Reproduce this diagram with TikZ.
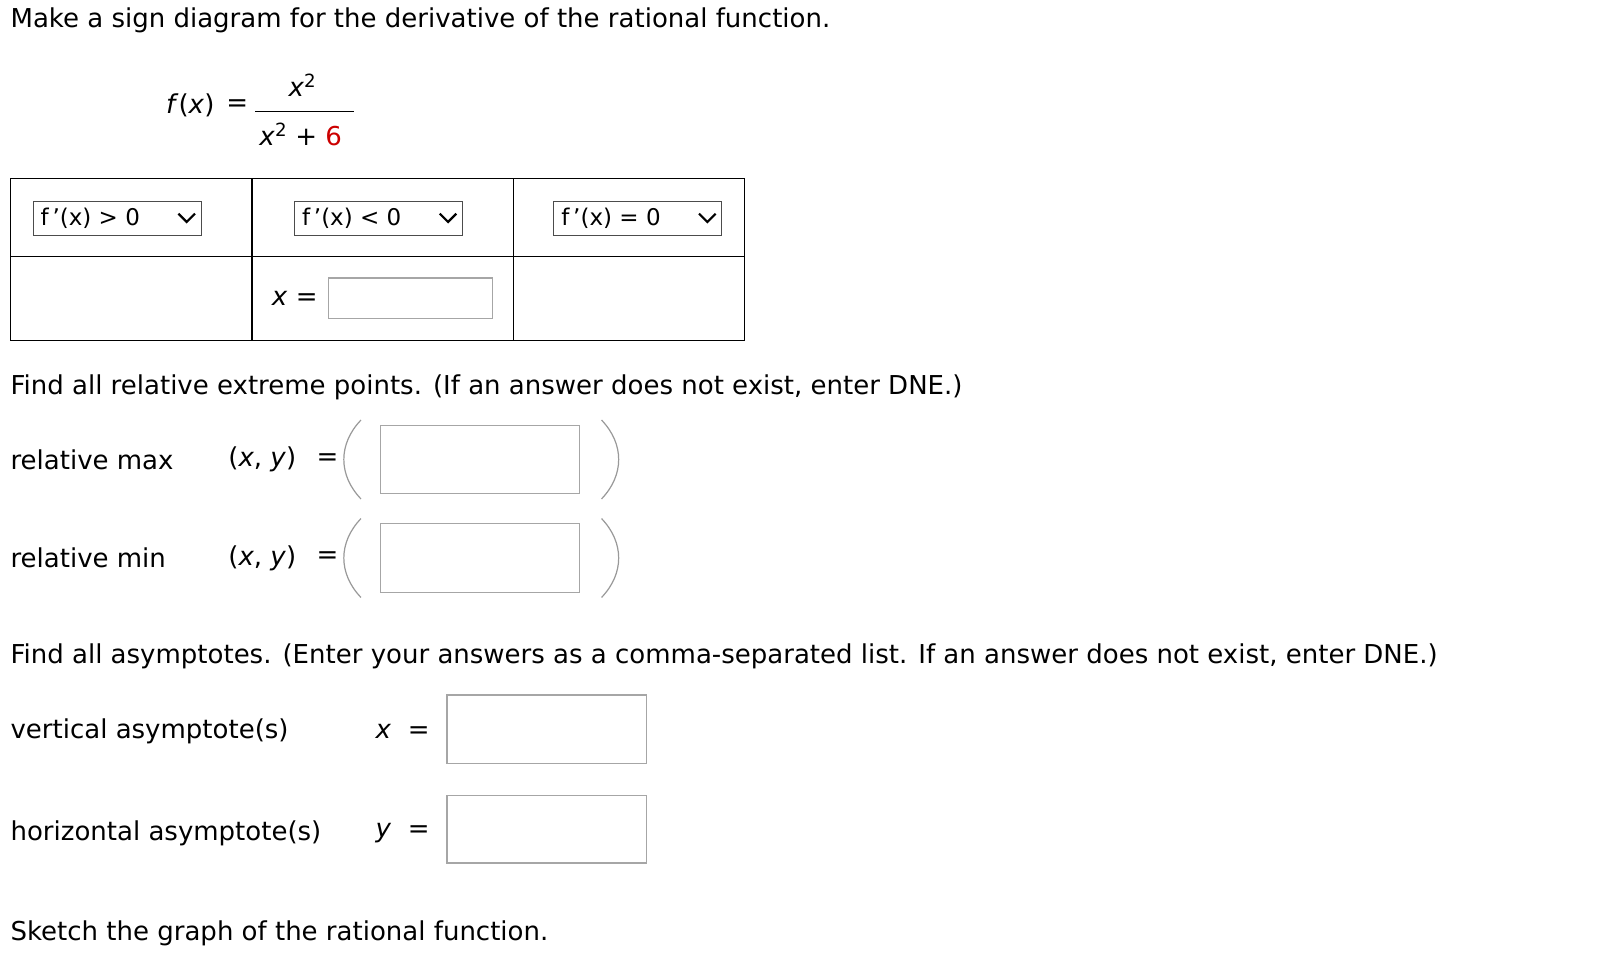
\documentclass[tikz,border=0pt]{standalone}
\usepackage{fontspec}
\setmainfont{DejaVu Sans}
\begin{document}
\begin{tikzpicture}[x=1.0372pt,y=-1.0372pt,
  txt/.style={anchor=west,inner sep=0pt,font=\fontsize{26}{30}\selectfont},
  sm/.style={anchor=west,inner sep=0pt,font=\fontsize{23}{27}\selectfont},
  inbox/.style={draw=gray!70,line width=1.2pt},
  dd/.style={draw=black!70,line width=1pt},
  par/.style={draw=gray!80,line width=1.2pt}]
\useasboundingbox (0,0) rectangle (1560,943);
\fill[white] (0,0) rectangle (1560,943);
\node[txt] (t1) at (10,20) {Make a sign diagram for the derivative of the rational function.};
\node[txt] (fx) at (160,102) {\textit{f}(\textit{x})};
\node[txt] (eq) at (218,102) {=};
\node[txt] (num) at (278,82) {\textit{x}$^{\mathrm{2}}$};
\draw (246,107) -- (341,107);
\node[txt] (den) at (250,130) {\textit{x}$^{\mathrm{2}}$ + \textcolor{red!80!black}{6}};
\draw[line width=1.2pt] (10,172) rectangle (718,328);
\draw[line width=1.2pt] (243,172) -- (243,328) (495,172) -- (495,328) (10,247) -- (718,247);
\foreach \x/\t in {32/{f\,'(x) > 0},284/{f\,'(x) < 0},534/{f\,'(x) = 0}}{
  \draw[dd] (\x,194) rectangle ++(162,33);
  \node[sm] at (\x+7,210.5) {\t};
  \draw[line width=2.2pt] (\x+140,206) -- (\x+148,214) -- (\x+156,206);
}
\node[txt] (xe) at (262,288) {\textit{x} =};
\draw[inbox] (317,268) rectangle (475,307);
\node[txt] (t2) at (10,373) {Find all relative extreme points. (If an answer does not exist, enter DNE.)};
\foreach \y/\l in {443/relative max,538/relative min}{
  \node[txt] at (10,\y) {\l};
  \node[txt] at (220,\y) {(\textit{x}, \textit{y})};
  \node[txt] at (305,\y) {=};
  \draw[inbox] (367,\y-33) rectangle (559,\y+33);
  \draw[par] (348,\y-38) .. controls (326,\y-15) and (326,\y+15) .. (348,\y+38);
  \draw[par] (580,\y-38) .. controls (602,\y-15) and (602,\y+15) .. (580,\y+38);
}
\node[txt] (t3) at (10,633) {Find all asymptotes. (Enter your answers as a comma-separated list. If an answer does not exist, enter DNE.)};
\node[txt] at (10,705) {vertical asymptote(s)};
\node[txt] at (362,705) {\textit{x} \ =};
\draw[inbox] (431,670) rectangle (623,736);
\node[txt] at (10,803) {horizontal asymptote(s)};
\node[txt] at (362,803) {\textit{y} \ =};
\draw[inbox] (431,767) rectangle (623,832);
\node[txt] (t4) at (10,900) {Sketch the graph of the rational function.};
\end{tikzpicture}
\end{document}
